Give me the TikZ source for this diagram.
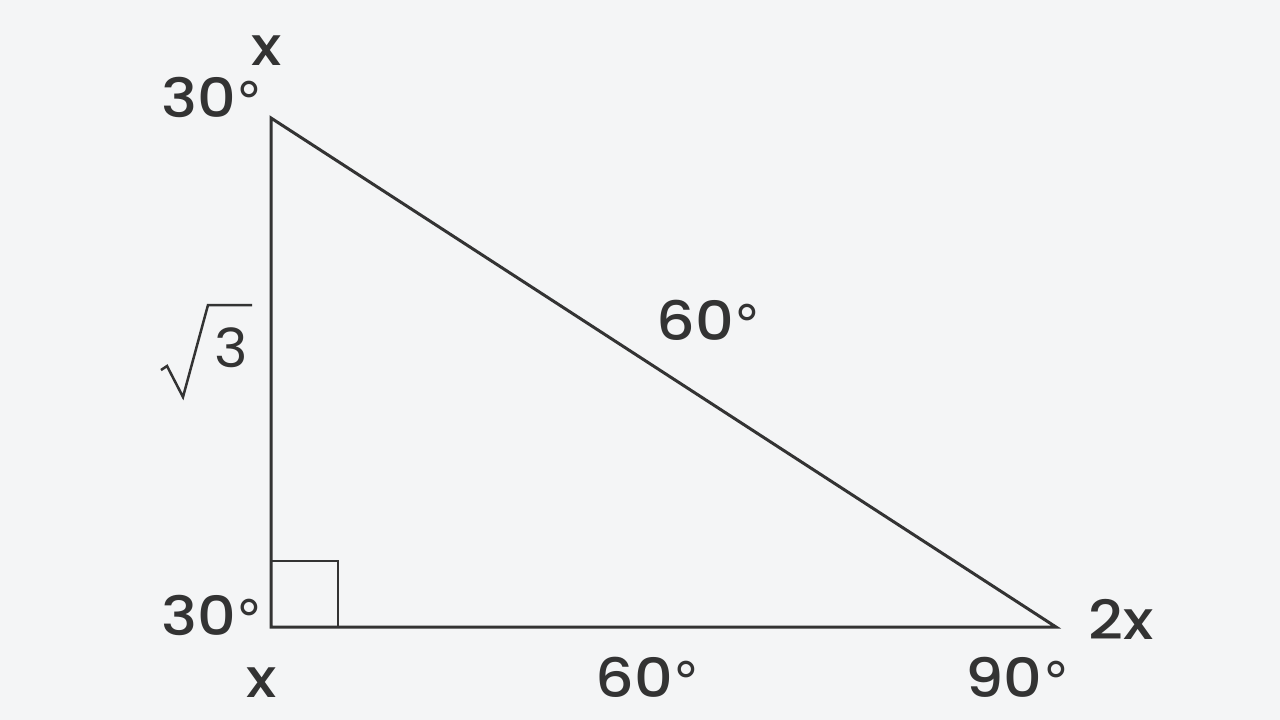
\documentclass[tikz,border=0pt]{standalone}
\usepackage{fontspec}
\setmainfont{Poppins}[UprightFont=* Medium,FakeStretch=1.12]
\newfontfamily\degfont{DejaVu Sans}
\newfontfamily\threefont{Poppins}[FakeStretch=1.05]
\definecolor{bg}{HTML}{F4F5F6}
\definecolor{ink}{HTML}{333333}
\newcommand{\dg}{\kern-3pt\raisebox{0.19em}{\fontsize{54}{58}\selectfont\degfont\symbol{"2218}}}
\begin{document}
\begin{tikzpicture}[x=1pt,y=-1pt,
  lbl/.style={inner sep=0pt,anchor=base west,text=ink,font=\fontsize{54}{60}\selectfont},
  edge/.style={draw=ink,line width=3pt,line join=miter}]
\fill[bg] (0,0) rectangle (1280,720);
\useasboundingbox (0,0) rectangle (1280,720);
\coordinate (A) at (271,118);
\coordinate (B) at (271,627);
\coordinate (C) at (1056,627);
\draw[edge] (A) -- (B) -- (C) -- cycle;
\draw[draw=ink,line width=2.5pt] (271,561) -| (338,627);
% radical
\draw[draw=ink,line width=2.5pt,line join=miter] (161,370) -- (167,366) -- (183,397) -- (208,305) -- (252,305);
\node[lbl,font=\threefont\fontsize{54}{60}\selectfont] (three) at (214,367) {3};
\node[lbl] (xt) at (251,65) {x};
\node[lbl] (a30t) at (161,117) {30\dg};
\node[lbl] (a60m) at (656,340) {60\dg};
\node[lbl] (a30b) at (161,635) {30\dg};
\node[lbl] (xb) at (246,697) {x};
\node[lbl] (a60b) at (595,697) {60\dg};
\node[lbl] (a90) at (965,697) {90\dg};
\node[lbl] (x2) at (1088,639) {2x};
\end{tikzpicture}
\end{document}
